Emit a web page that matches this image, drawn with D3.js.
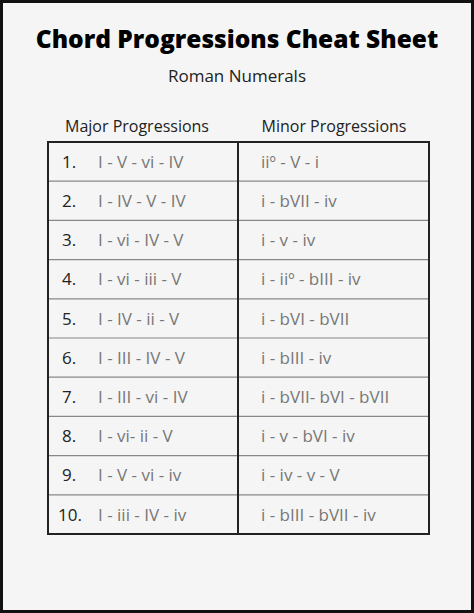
<!DOCTYPE html>
<html>
<head>
<meta charset="utf-8">
<script src="https://cdn.jsdelivr.net/npm/d3@7"></script>
<style>
  body { margin: 0; background: #fff; }
  text { font-family: "Open Sans", sans-serif; }
</style>
</head>
<body>
<svg id="chart" width="474" height="613"></svg>
<script>
var title = "Chord Progressions Cheat Sheet";
var subtitle = "Roman Numerals";
var headers = ["Major Progressions", "Minor Progressions"];
var numbers = ["1.", "2.", "3.", "4.", "5.", "6.", "7.", "8.", "9.", "10."];
var major = ["I - V - vi - IV", "I - IV - V - IV", "I - vi - IV - V", "I - vi - iii - V", "I - IV - ii - V",
  "I - III - IV - V", "I - III - vi - IV", "I - vi- ii - V", "I - V - vi - iv", "I - iii - IV - iv"];
var minor = ["iiº - V - i", "i - bVII - iv", "i - v - iv", "i - iiº - bIII - iv", "i - bVI - bVII",
  "i - bIII - iv", "i - bVII- bVI - bVII", "i - v - bVI - iv", "i - iv - v - V", "i - bIII - bVII - iv"];

var svg = d3.select("#chart");
svg.append("rect").attr("x", 1.5).attr("y", 1.5).attr("width", 471).attr("height", 610)
  .attr("fill", "#f5f5f5").attr("stroke", "#111").attr("stroke-width", 3);

svg.append("text").attr("x", 237).attr("y", 48).attr("text-anchor", "middle")
  .attr("font-size", 24.5).attr("font-weight", 800).attr("fill", "#000").text(title);
svg.append("text").attr("x", 237).attr("y", 82).attr("text-anchor", "middle")
  .attr("font-size", 17).attr("fill", "#222").text(subtitle);

var tLeft = 48, tMid = 238, tRight = 429, tTop = 142, tBottom = 534;
var y = d3.scaleBand().domain(d3.range(numbers.length)).range([tTop, tBottom]);

svg.selectAll(".hdr").data(headers).enter().append("text")
  .attr("x", (d, i) => i == 0 ? 137 : 334).attr("y", 132).attr("text-anchor", "middle")
  .attr("font-size", 16).attr("fill", "#222").text(d => d);

// row separators
svg.selectAll(".sep").data(d3.range(1, numbers.length)).enter().append("line")
  .attr("x1", tLeft).attr("x2", tRight).attr("y1", d => y(d)).attr("y2", d => y(d))
  .attr("stroke", "#888").attr("stroke-width", 1.2);

svg.append("rect").attr("x", tLeft).attr("y", tTop).attr("width", tRight - tLeft).attr("height", tBottom - tTop)
  .attr("fill", "none").attr("stroke", "#222").attr("stroke-width", 2);
svg.append("line").attr("x1", tMid).attr("x2", tMid).attr("y1", tTop).attr("y2", tBottom)
  .attr("stroke", "#222").attr("stroke-width", 2);

var rows = svg.selectAll(".row").data(d3.range(numbers.length)).enter().append("g")
  .attr("transform", d => "translate(0," + (y(d) + y.bandwidth() / 2) + ")");
rows.append("text").attr("x", d => d == 9 ? 58 : 62).attr("dy", "0.36em")
  .attr("font-size", 17).attr("fill", "#222").text(d => numbers[d]);
rows.append("text").attr("x", 98).attr("dy", "0.36em")
  .attr("font-size", 17).attr("fill", "#777").text(d => major[d]);
rows.append("text").attr("x", 261).attr("dy", "0.36em")
  .attr("font-size", 17).attr("fill", "#777").text(d => minor[d]);
</script>
</body>
</html>
